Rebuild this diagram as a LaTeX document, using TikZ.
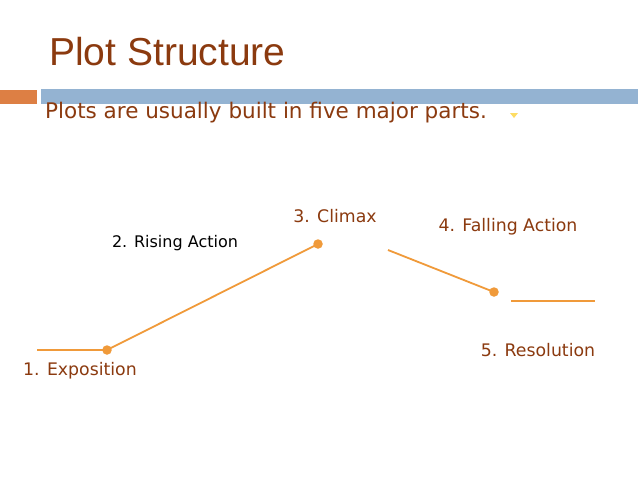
\documentclass[tikz,border=0pt]{standalone}
\usepackage{fontspec}
\setmainfont{DejaVu Sans}
\newfontfamily\titlefont{Liberation Sans}
\begin{document}
\begin{tikzpicture}[x=1pt,y=-1pt,
  lbl/.style={inner sep=0pt,font=\fontsize{17.3}{20}\selectfont,text=brn},
  seg/.style={draw=org,line width=1.8pt},
  dot/.style={circle,fill=org,inner sep=0pt,minimum size=9.5pt}]
\definecolor{brn}{HTML}{8B3A0F}
\definecolor{org}{HTML}{F09A3A}
\definecolor{blu}{HTML}{94B3D2}
\definecolor{bar}{HTML}{DD7F44}
\useasboundingbox (0,0) rectangle (638,479);
\fill[white] (0,0) rectangle (638,479);
\fill[bar] (0,90) rectangle (37,104);
\fill[blu] (41,89) rectangle (638,104);
\node[anchor=west,inner sep=0pt,text=brn,font=\titlefont\fontsize{39}{44}\selectfont] (t) at (49,52) {Plot Structure};
\node[anchor=west,inner sep=0pt,text=brn,font=\fontsize{21.5}{25}\selectfont] (s) at (45,113) {Plots are usually built in five major parts.};
\fill[yellow!60!orange!60] (510,113) -- (518,113) -- (514,118) -- cycle;
\coordinate (a0) at (37,350);
\node[dot] (d1) at (107,350) {};
\node[dot] (d2) at (318,244) {};
\coordinate (b0) at (388,250);
\node[dot] (d3) at (494,292) {};
\coordinate (c0) at (511,301);
\coordinate (c1) at (595,301);
\draw[seg] (a0) -- (d1.center) -- (d2.center);
\draw[seg] (b0) -- (d3.center);
\draw[seg] (c0) -- (c1);
\node[lbl] (l1) at (80,371) {1. Exposition};
\node[lbl,text=black,font=\fontsize{16}{18}\selectfont] (l2) at (175,243) {2. Rising Action};
\node[lbl] (l3) at (335,216) {3. Climax};
\node[lbl] (l4) at (508,227) {4. Falling Action};
\node[lbl] (l5) at (538,350) {5. Resolution};
\end{tikzpicture}
\end{document}
